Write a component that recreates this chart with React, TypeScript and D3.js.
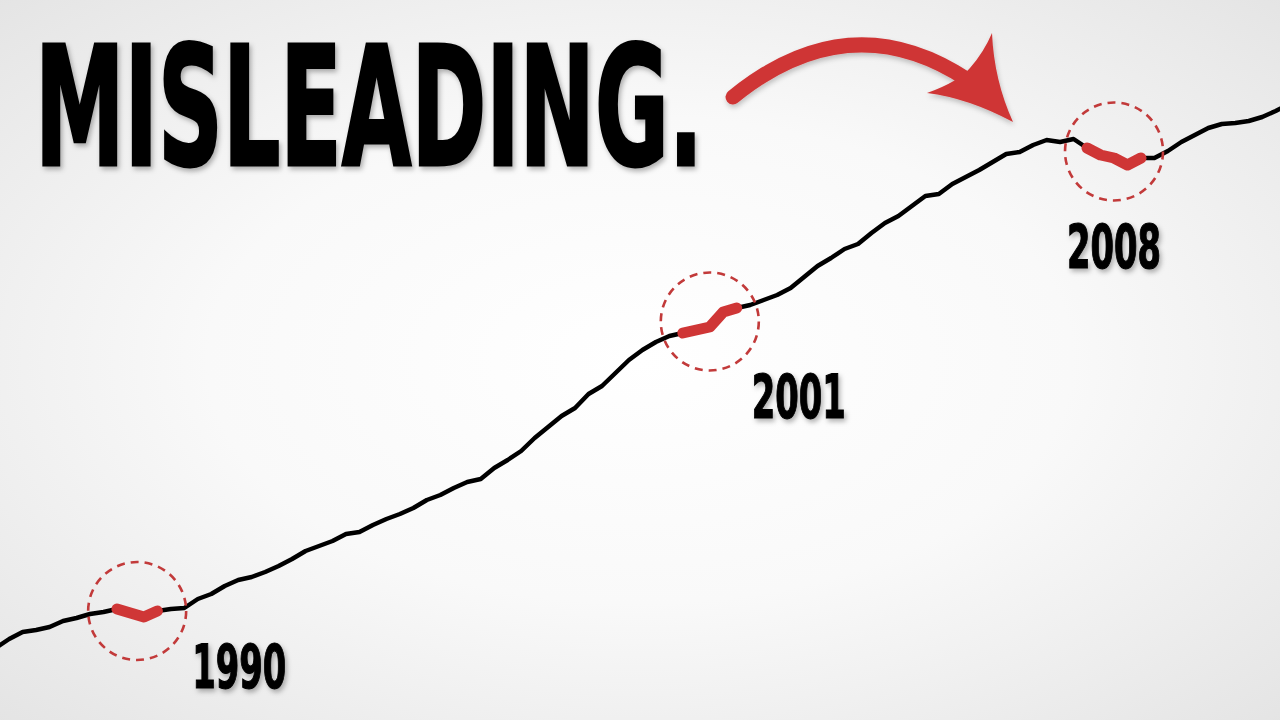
import { useMemo } from "react";
import { line, scaleLinear, curveLinear } from "d3";

// visual output index, quarterly (1988 Q2 onwards)
const outputIndex = [
  72, 81, 88, 90, 93, 99, 102, 106, 108, 111, 107, 103, 109, 111, 112, 121,
  126, 134, 140, 143, 148, 154, 161, 169, 174, 179, 186, 188, 195, 201, 206, 212,
  220, 225, 232, 238, 241, 252, 260, 269, 282, 293, 304, 312, 326, 334, 347, 360,
  370, 378, 384, 387, 390, 393, 408, 412, 415, 420, 425, 432, 443, 454, 462, 471,
  476, 487, 497, 504, 514, 524, 526, 536, 543, 550, 558, 566, 568, 575, 580, 578,
  581, 572, 565, 562, 555, 562, 562, 569, 578, 585, 592, 596, 597, 599, 603, 609,
  616,
];
const firstQuarter = 1988.25;
const quarters = outputIndex.map((_, i) => firstQuarter + i * 0.25);

const recessionLabels = ["1990", "2001", "2008"];
const recessionStart = [1990.5, 2001.0, 2008.5];
const recessionEnd = [1991.25, 2002.0, 2009.5];

const title = "MISLEADING.";

const W = 1280;
const H = 720;
const RED = "#cf3636";
const DASH = "#c23a3a";
const FONT = "'Liberation Sans Narrow', 'DejaVu Sans Condensed', 'Arial Narrow', sans-serif";

// circle nudge and label placement relative to each circle
const annotationLayout = [
  { nudge: -2, dx: 55, dy: 77, anchor: "start" },
  { nudge: 1, dx: 42, dy: 96, anchor: "start" },
  { nudge: -5, dx: 0, dy: 116, anchor: "middle" },
];

export default function App() {
  const x = scaleLinear().domain([1988.33, 2012.08]).range([0, W]);
  const y = scaleLinear().domain([0, 720]).range([H, 0]);

  const points = useMemo(
    () => quarters.map((q, i) => ({ q, v: outputIndex[i] })),
    [],
  );
  const path = line<{ q: number; v: number }>()
    .x((d) => x(d.q))
    .y((d) => y(d.v))
    .curve(curveLinear);

  const recessions = recessionLabels.map((label, i) => {
    const seg = points.filter(
      (p) => p.q >= recessionStart[i] - 1e-6 && p.q <= recessionEnd[i] + 1e-6,
    );
    const lo = Math.min(...seg.map((p) => p.v));
    const hi = Math.max(...seg.map((p) => p.v));
    return {
      label,
      seg,
      cx: x((recessionStart[i] + recessionEnd[i]) / 2),
      cy: y((lo + hi) / 2) + annotationLayout[i].nudge,
    };
  });

  return (
    <svg
      width={W}
      height={H}
      viewBox={`0 0 ${W} ${H}`}
      style={{ position: "fixed", left: 0, top: 0, display: "block" }}
    >
      <defs>
        <radialGradient id="bg" cx="50%" cy="50%" r="75%">
          <stop offset="0%" stopColor="#ffffff" />
          <stop offset="45%" stopColor="#f9f9f9" />
          <stop offset="100%" stopColor="#e2e2e2" />
        </radialGradient>
        <filter id="shadow" x="-10%" y="-20%" width="120%" height="150%">
          <feDropShadow dx="2" dy="3" stdDeviation="2.5" floodColor="#000" floodOpacity="0.3" />
        </filter>
        <filter id="softShadow" x="-10%" y="-20%" width="130%" height="160%">
          <feDropShadow dx="1" dy="3" stdDeviation="2.5" floodColor="#000" floodOpacity="0.22" />
        </filter>
      </defs>
      <rect width={W} height={H} fill="url(#bg)" />

      <text
        x={35}
        y={165}
        fontFamily={FONT}
        fontWeight={700}
        fontSize={166}
        textLength={668}
        lengthAdjust="spacingAndGlyphs"
        fill="#000"
        stroke="#000"
        strokeWidth={3}
        filter="url(#shadow)"
      >
        {title}
      </text>

      <g filter="url(#softShadow)">
        <path
          d="M733,97 Q850,2 968,80"
          fill="none"
          stroke={RED}
          strokeWidth={15}
          strokeLinecap="round"
        />
        <path
          d="M992,33 Q994,80 1013,122 Q968,98 927,93 Q958,82 970,68 Q984,52 992,33 Z"
          fill={RED}
        />
      </g>

      <path
        d={path(points) ?? ""}
        fill="none"
        stroke="#000"
        strokeWidth={4.5}
        strokeLinejoin="round"
        strokeLinecap="round"
      />

      {recessions.map((r, i) => (
        <g key={r.label}>
          <path
            d={path(r.seg) ?? ""}
            fill="none"
            stroke={RED}
            strokeWidth={11}
            strokeLinejoin="round"
            strokeLinecap="round"
          />
          <circle
            cx={r.cx}
            cy={r.cy}
            r={49}
            fill="none"
            stroke={DASH}
            strokeWidth={2.6}
            strokeDasharray="8 6"
          />
          <text
            x={r.cx + annotationLayout[i].dx}
            y={r.cy + annotationLayout[i].dy}
            textAnchor={annotationLayout[i].anchor as "start" | "middle"}
            fontFamily={FONT}
            fontWeight={700}
            fontSize={60}
            textLength={94}
            lengthAdjust="spacingAndGlyphs"
            fill="#000"
            stroke="#000"
            strokeWidth={1.2}
            filter="url(#shadow)"
          >
            {r.label}
          </text>
        </g>
      ))}
    </svg>
  );
}
